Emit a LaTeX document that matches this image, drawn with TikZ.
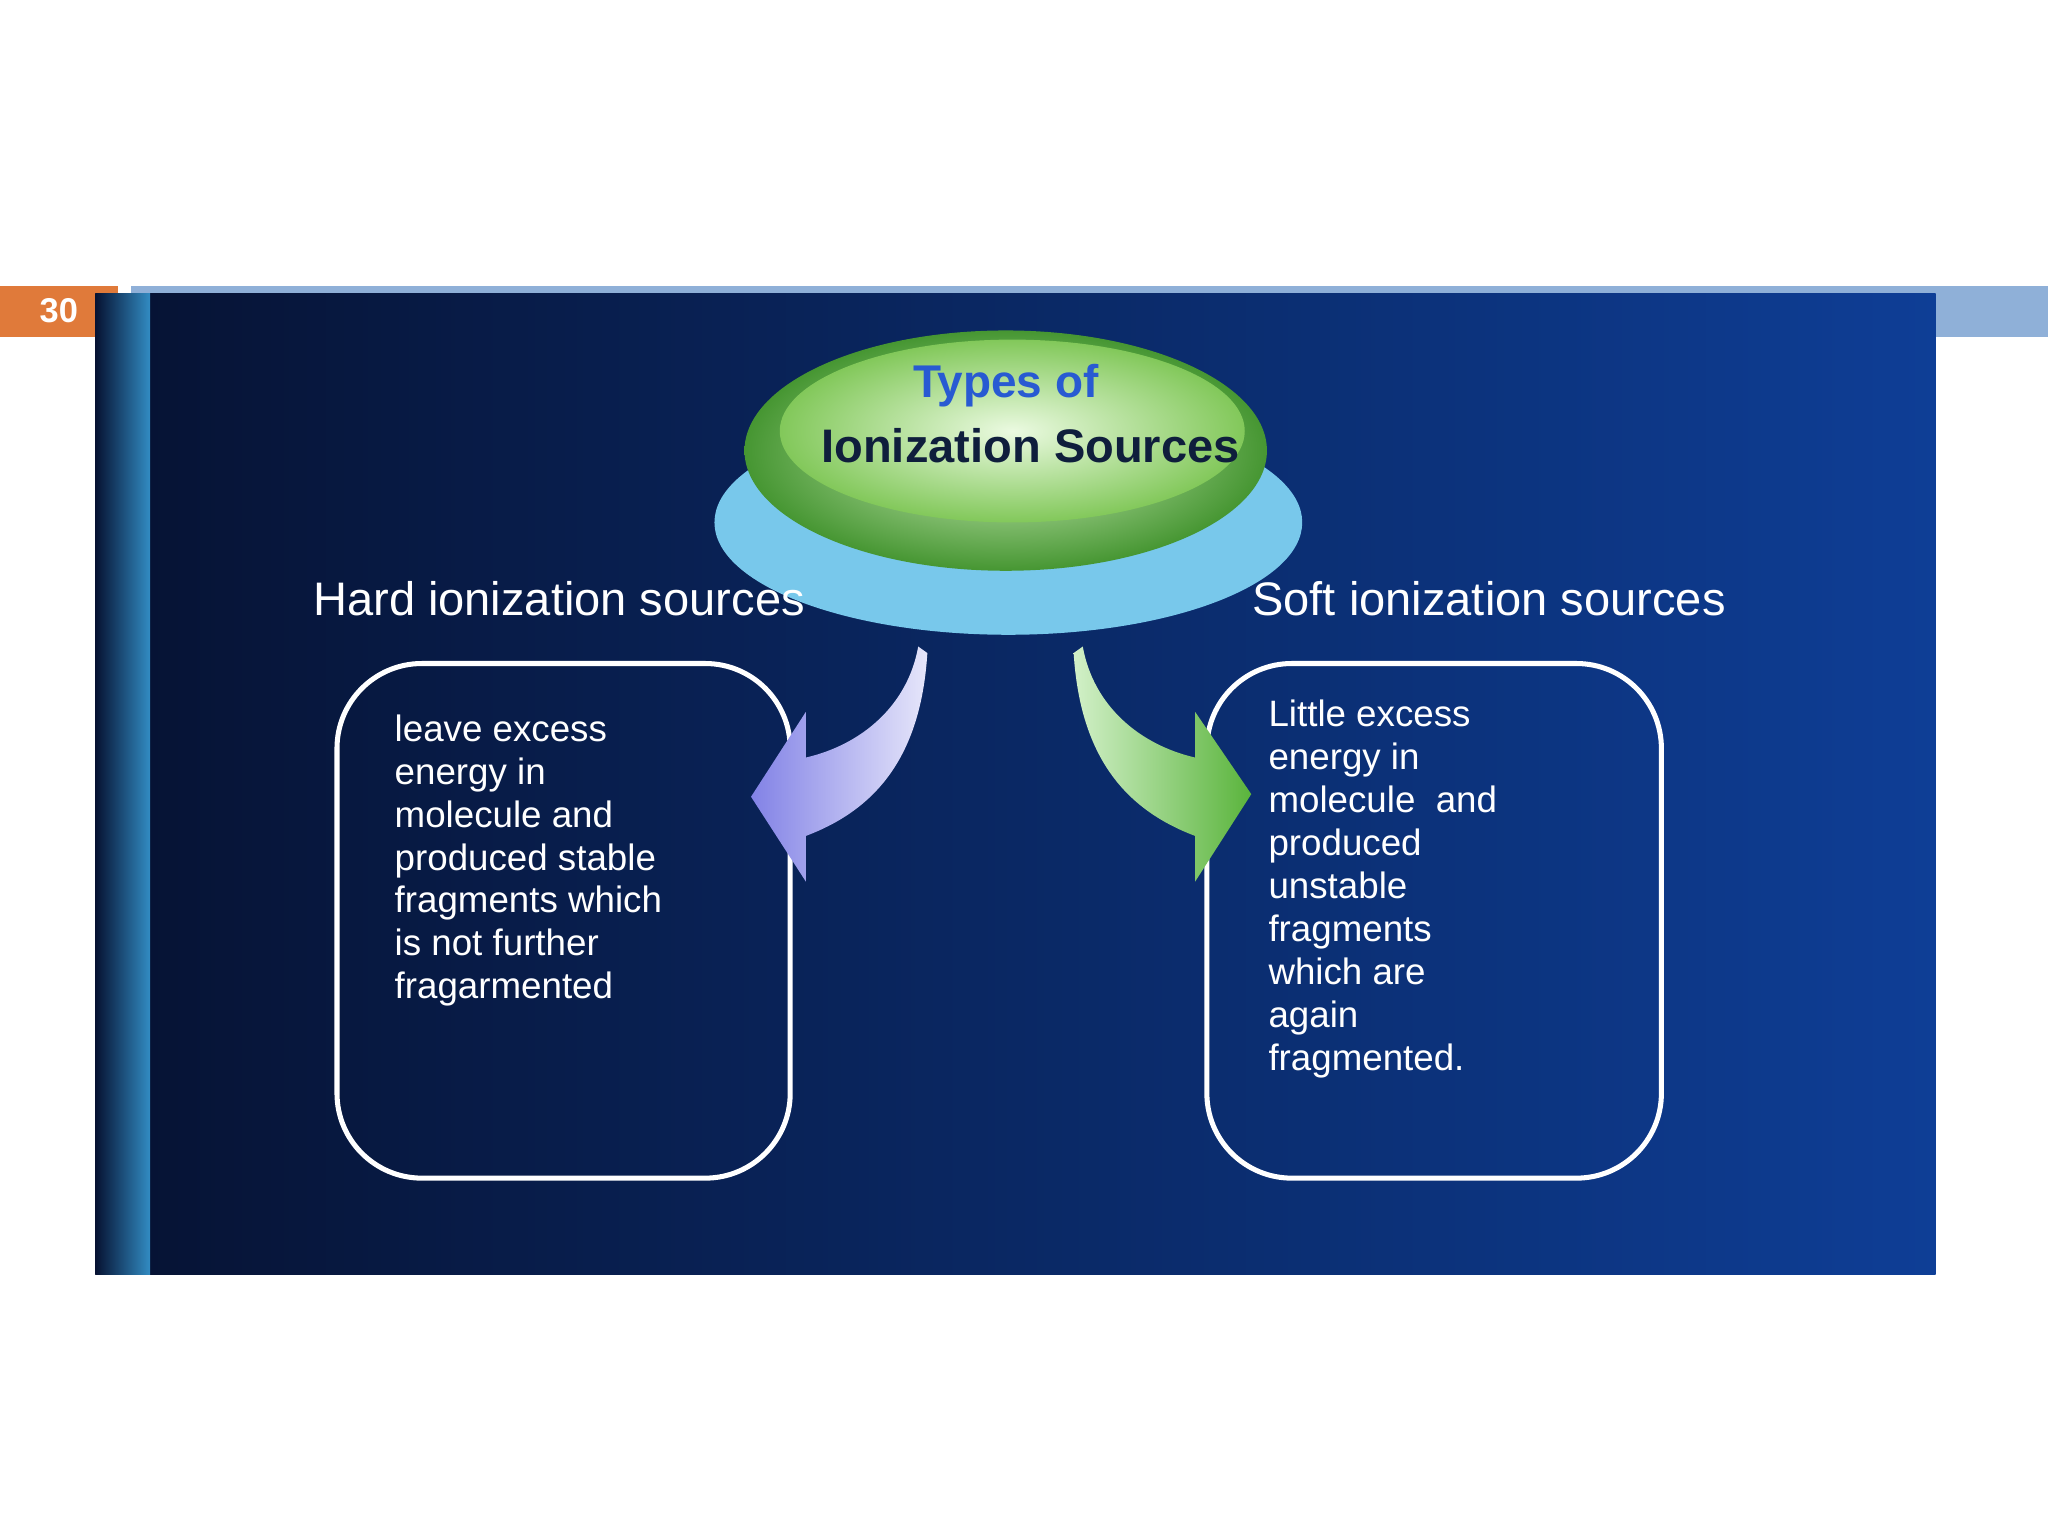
\documentclass[tikz,border=0pt]{standalone}
\usepackage{fontspec}
\setmainfont{Liberation Sans}
\definecolor{barblue}{RGB}{143,176,216}
\definecolor{orng}{RGB}{224,122,58}
\definecolor{navy}{RGB}{6,18,50}
\definecolor{midb}{RGB}{26,84,168}
\definecolor{rgtb}{RGB}{14,62,150}
\definecolor{stripb}{RGB}{50,140,195}
\definecolor{baseb}{RGB}{120,200,235}
\definecolor{gin}{RGB}{210,240,190}
\definecolor{gout}{RGB}{70,150,50}
\definecolor{gin2}{RGB}{235,250,225}
\definecolor{gout2}{RGB}{130,200,90}
\definecolor{typb}{RGB}{40,90,210}
\definecolor{dk}{RGB}{15,30,60}
\definecolor{pa}{RGB}{130,130,230}
\definecolor{pb}{RGB}{230,230,250}
\definecolor{ga}{RGB}{90,180,60}
\definecolor{gb}{RGB}{210,240,200}
\begin{document}
\begin{tikzpicture}[x=0.02cm,y=-0.02cm,
  lbl/.style={text=white,font=\fontsize{20.5}{24}\selectfont},
  body/.style={text=white,font=\fontsize{16}{18.7}\selectfont,align=left,anchor=north west},
  box/.style={draw=white,line width=2.2pt,rounded corners=1.3cm}]
\useasboundingbox (0,0) rectangle (1568,1176);
\fill[white] (0,0) rectangle (1568,1176);
\fill[barblue] (100,219) rectangle (1568,258);
\fill[orng] (0,219) rectangle (90,258);
\node[text=white,font=\bfseries\fontsize{15}{18}\selectfont] (num) at (45,238) {30};
\shade[left color=navy,middle color=midb,right color=rgtb] (73,225) rectangle (1482,976);
\shade[left color=navy,right color=stripb] (73,225) rectangle (115,976);
\fill[baseb] (772,400) ellipse (225 and 86);
\shade[inner color=gin,outer color=gout] (770,345) ellipse (200 and 92);
\shade[inner color=gin2,outer color=gout2] (775,330) ellipse (178 and 70);
\node[text=typb,font=\bfseries\fontsize{20}{24}\selectfont] (t1) at (770,295) {Types of};
\node[text=dk,font=\bfseries\fontsize{20.5}{24}\selectfont] (t2) at (789,341) {Ionization Sources};
\node[lbl] (hard) at (428,458) {Hard ionization sources};
\node[lbl] (soft) at (1140,458) {Soft ionization sources};
\draw[box] (258,508) rectangle (605,902);
\draw[box] (924,508) rectangle (1272,902);
\node[body] (lt) at (296,541) {leave excess\\energy in\\molecule and\\produced stable\\fragments which\\is not further\\fragarmented};
\node[body] (rt) at (965,530) {Little excess\\energy in\\molecule\ \ and\\produced\\unstable\\fragments\\which are\\again\\fragmented.};
\shade[left color=pa,right color=pb]
 (703,495) -- (710,500) .. controls (705,580) and (670,620) .. (617,640) -- (617,675) -- (575,610) -- (617,545) -- (617,580) .. controls (660,570) and (695,540) .. (703,495) -- cycle;
\shade[right color=ga,left color=gb]
 (829,495) -- (822,500) .. controls (827,580) and (862,620) .. (915,640) -- (915,675) -- (958,608) -- (915,545) -- (915,580) .. controls (872,570) and (837,540) .. (829,495) -- cycle;
\end{tikzpicture}
\end{document}
